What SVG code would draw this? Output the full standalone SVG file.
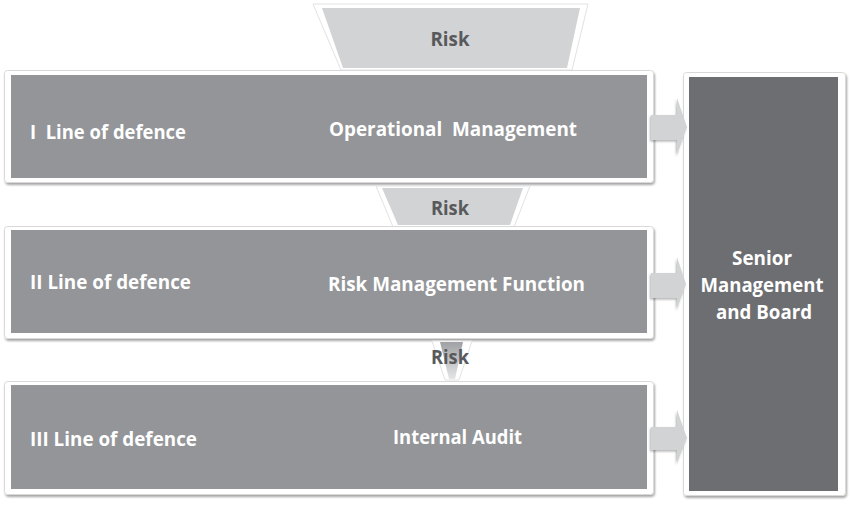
<svg xmlns="http://www.w3.org/2000/svg" width="850" height="506" viewBox="0 0 850 506">
  <defs>
    <filter id="sh" x="-5%" y="-10%" width="110%" height="125%">
      <feDropShadow dx="1" dy="2" stdDeviation="1.2" flood-color="#000" flood-opacity="0.35"/>
    </filter>
    <filter id="ash" x="-20%" y="-20%" width="140%" height="140%">
      <feDropShadow dx="-1" dy="1.5" stdDeviation="1" flood-color="#000" flood-opacity="0.3"/>
    </filter>
    <linearGradient id="vg" x1="0" y1="0" x2="0" y2="1">
      <stop offset="0" stop-color="#9fa1a4"/>
      <stop offset="1" stop-color="#e4e5e6"/>
    </linearGradient>
  </defs>
  <style>
    .frame { fill: #ffffff; stroke: #d9d9d9; stroke-width: 1; }
    .inner { fill: #939598; }
    .senior { fill: #6d6e71; }
    .trap { fill: #d1d3d4; }
    .trapo { fill: #ffffff; stroke: #e2e2e2; stroke-width: 1; }
    .lbl { font-family: "Open Sans", "Liberation Sans", sans-serif; font-weight: bold; font-size: 19px; fill: #ffffff; }
    .risk { font-family: "Open Sans", "Liberation Sans", sans-serif; font-weight: bold; font-size: 19.5px; fill: #58595b; text-anchor: middle; }
    .arrow { fill: #d1d3d4; }
  </style>
  <rect width="850" height="506" fill="#ffffff"/>

  <g id="risk1">
    <polygon class="trapo" points="313,4 588,4 572,70 341,70"/>
    <polygon class="trap" points="322,8 580,8 567,68 343,68"/>
    <text class="risk" x="450" y="46" textLength="39" lengthAdjust="spacingAndGlyphs">Risk</text>
  </g>

  <g id="line1">
    <rect class="frame" x="4.5" y="70.5" width="649" height="112" rx="3" filter="url(#sh)"/>
    <rect class="inner" x="11" y="75" width="636" height="103"/>
    <text class="lbl" x="30" y="139" xml:space="preserve" textLength="156" lengthAdjust="spacingAndGlyphs">I  Line of defence</text>
    <text class="lbl" x="329" y="136" xml:space="preserve" textLength="248" lengthAdjust="spacingAndGlyphs">Operational  Management</text>
  </g>

  <g id="risk2">
    <polygon class="trapo" points="376,186 530,186 514,227 393,227"/>
    <polygon class="trap" points="382,188 523,188 510,225 398,225"/>
    <text class="risk" x="450" y="215" textLength="38" lengthAdjust="spacingAndGlyphs">Risk</text>
  </g>

  <g id="line2">
    <rect class="frame" x="4.5" y="226.5" width="649" height="112" rx="3" filter="url(#sh)"/>
    <rect class="inner" x="11" y="230" width="636" height="103"/>
    <text class="lbl" x="30" y="289" textLength="161" lengthAdjust="spacingAndGlyphs">II Line of defence</text>
    <text class="lbl" x="328" y="291" textLength="257" lengthAdjust="spacingAndGlyphs">Risk Management Function</text>
  </g>

  <g id="risk3">
    <polygon class="trapo" points="432,341 472,341 459,380 445,380"/>
    <polygon fill="url(#vg)" points="440,342 463,342 455,379 449,379"/>
    <text class="risk" x="450" y="364" textLength="38" lengthAdjust="spacingAndGlyphs">Risk</text>
  </g>

  <g id="line3">
    <rect class="frame" x="4.5" y="381.5" width="649" height="113" rx="3" filter="url(#sh)"/>
    <rect class="inner" x="11" y="385" width="636" height="104"/>
    <text class="lbl" x="30" y="446" textLength="167" lengthAdjust="spacingAndGlyphs">III Line of defence</text>
    <text class="lbl" x="393" y="444" textLength="129" lengthAdjust="spacingAndGlyphs">Internal Audit</text>
  </g>

  <g id="senior">
    <rect class="frame" x="683.5" y="72.5" width="162" height="423" rx="3" filter="url(#sh)"/>
    <rect class="senior" x="689" y="77" width="149" height="414"/>
    <text class="lbl" text-anchor="middle" x="762" y="265" textLength="60" lengthAdjust="spacingAndGlyphs">Senior</text>
    <text class="lbl" text-anchor="middle" x="762" y="292" textLength="123" lengthAdjust="spacingAndGlyphs">Management</text>
    <text class="lbl" text-anchor="middle" x="764" y="319" textLength="96" lengthAdjust="spacingAndGlyphs">and Board</text>
  </g>

  <g id="connectors">
    <polygon class="arrow" filter="url(#ash)" points="651,115 677,115 677,98 687,127 677,155 677,140 651,140"/>
    <polygon class="arrow" filter="url(#ash)" points="651,273 677,273 677,257 686,284 677,309 677,298 651,298"/>
    <polygon class="arrow" filter="url(#ash)" points="651,427 677,427 677,410 687,438 677,463 677,450 651,450"/>
  </g>
</svg>
